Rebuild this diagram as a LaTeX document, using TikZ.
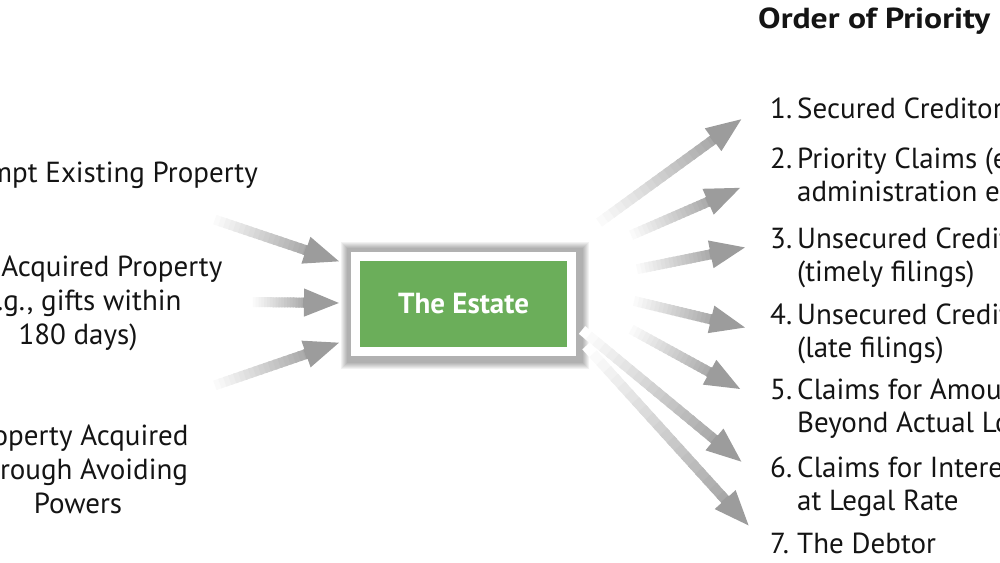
\documentclass[tikz,border=0pt]{standalone}
\usepackage{fontspec}
\setmainfont{PT Sans}
\newfontfamily\titlefont[FakeStretch=1.16]{PT Sans}
\usetikzlibrary{arrows.meta,positioning,calc,backgrounds}

\definecolor{estategreen}{RGB}{107,174,90}
\definecolor{labelblack}{RGB}{20,20,20}

\tikzset{
  sidelabel/.style={font=\fontsize{29}{34}\selectfont,inner sep=0pt,align=center,text=labelblack},
  listitem/.style={font=\fontsize{29}{33}\selectfont,inner sep=0pt,align=left,anchor=base west,text=labelblack},
  estatebox/.style={fill=estategreen,draw=white,line width=9pt,minimum width=216pt,minimum height=95pt,
    text=white,font=\bfseries\fontsize{29}{32}\selectfont},
}

% hanging number for the priority list
\newcommand\itemno[1]{\makebox[27pt][l]{#1}}
\newcommand\itemgap{\hspace*{27pt}}

% shaded arrow from a tail coordinate to a tip coordinate
\newcommand\fadearrow[2]{%
  \coordinate (hb) at ($(#2)!34pt!(#1)$);
  \foreach \i [evaluate=\i as \c using 68*\i/19] in {0,...,19}
    \draw[line width=10pt,gray!\c] ($(#1)!\i/20!(hb)$) -- ($(#1)!{(\i+1.4)/20}!(hb)$);
  \draw[line width=10pt,gray!78,-{Triangle[length=37pt,width=25pt]}] ($(#2)!38pt!(#1)$) -- (#2);
}

\begin{document}
\begin{tikzpicture}[x=1pt,y=-1pt]
\clip (0,0) rectangle (1000,562);
\useasboundingbox (0,0) rectangle (1000,562);

% sources
\node[sidelabel,anchor=base east] (exempt) at (258,182) {Exempt Existing Property};
\node[sidelabel,anchor=base] (afteracq) at (78,344) {After Acquired Property\\(e.g., gifts within\\180 days)};
\node[sidelabel,anchor=base] (avoiding) at (78,513) {Property Acquired\\Through Avoiding\\Powers};

% the estate
\node[estatebox] (estate) at (463.5,304) {The Estate};
\begin{scope}[on background layer]
  \foreach \d in {1,...,7}
    \fill[black,opacity=.05] ($(estate.north west)+(-3.5-\d,-3-\d)$) rectangle ($(estate.south east)+(5.5+\d,5.5+\d)$);
\end{scope}

% priority list
\node[font=\titlefont\bfseries\fontsize{29}{32}\selectfont,inner sep=0pt,anchor=base west,text=labelblack] (title) at (758,28) {Order of Priority};
\node[listitem] (p1) at (770,118) {\itemno{1.}Secured Creditors};
\node[listitem] (p2) at (770,201) {\itemno{2.}Priority Claims (e.g.,\\\itemgap administration expenses)};
\node[listitem] (p3) at (770,281) {\itemno{3.}Unsecured Creditors\\\itemgap(timely filings)};
\node[listitem] (p4) at (770,357) {\itemno{4.}Unsecured Creditors\\\itemgap(late filings)};
\node[listitem] (p5) at (770,432) {\itemno{5.}Claims for Amounts\\\itemgap Beyond Actual Loss};
\node[listitem] (p6) at (770,510) {\itemno{6.}Claims for Interest\\\itemgap at Legal Rate};
\node[listitem] (p7) at (770,553) {\itemno{7.}The Debtor};

% arrow ends
\coordinate (in1) at (210,218);  \coordinate (to1) at (341,262);
\coordinate (in2) at (250,302);  \coordinate (to2) at (341,303);
\coordinate (in3) at (210,387);  \coordinate (to3) at (341,342);
\coordinate (out1) at (593,227); \coordinate (at1) at (743,118);
\coordinate (out2) at (627,237); \coordinate (at2) at (742,187);
\coordinate (out3) at (633,270); \coordinate (at3) at (747,247);
\coordinate (out4) at (630,300); \coordinate (at4) at (747,328);
\coordinate (out5) at (627,327); \coordinate (at5) at (742,390);
\coordinate (out6) at (582,330); \coordinate (at6) at (743,463);
\coordinate (out7) at (586,346); \coordinate (at7) at (750,527);

\fadearrow{in1}{to1}
\fadearrow{in2}{to2}
\fadearrow{in3}{to3}
\foreach \k in {1,...,7}{
  \fadearrow{out\k}{at\k}
}
\end{tikzpicture}
\end{document}
